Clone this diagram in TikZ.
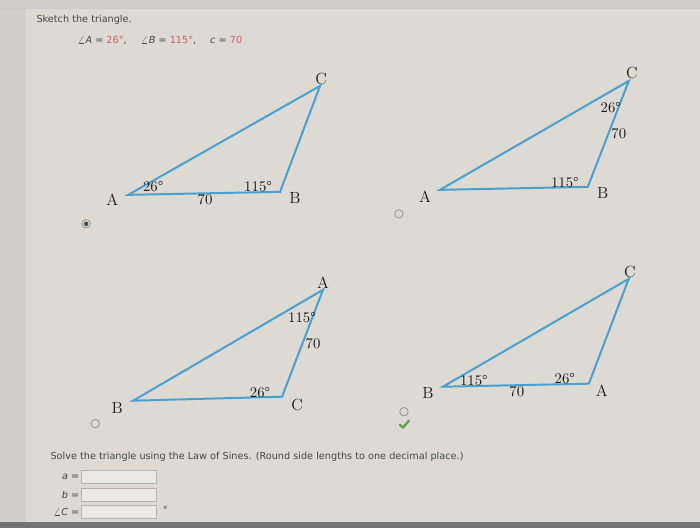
\documentclass[tikz,border=0pt]{standalone}
\usepackage{fontspec}
\newfontfamily\uifont{DejaVu Sans}
\usepackage{xcolor}
\usetikzlibrary{calc}
\definecolor{paper}{RGB}{220,218,211}
\definecolor{edge}{RGB}{208,206,199}
\definecolor{triblue}{RGB}{72,160,208}
\definecolor{uigray}{RGB}{70,70,70}
\definecolor{valred}{RGB}{205,95,90}
\definecolor{okgreen}{RGB}{96,160,72}
\tikzset{
	side/.style={draw=triblue,line width=1.4pt,line join=miter},
	vlabel/.style={inner sep=0pt,font=\fontsize{11.5}{13}\selectfont,text=black!90},
	alabel/.style={inner sep=0pt,font=\fontsize{10.5}{12}\selectfont,text=black!90},
	ui/.style={inner sep=0pt,font=\uifont\fontsize{6.9}{8}\selectfont,text=uigray},
	radio/.style={circle,draw=black!45,line width=0.5pt,minimum size=6pt,inner sep=0pt},
	inbox/.style={draw=black!30,fill=paper!60!white,line width=0.6pt,minimum width=53pt,minimum height=9.5pt,inner sep=0pt,anchor=west}
}

\begin{document}
\begin{tikzpicture}[x=0.025cm,y=-0.025cm]
		% photo background
		\fill[paper] (0,0) rectangle (700,528);
		\fill[edge] (0,0) rectangle (700,8);
		\fill[edge] (0,8) rectangle (25,528);
		\fill[black!55] (0,522) rectangle (700,528);
		\draw[black!20] (25,8) -- (25,522);
		\draw[black!20] (0,8) -- (700,8);
		\useasboundingbox (0,0) rectangle (700,528);
		
		% question
		\node[ui,anchor=west] (title) at (36,20) {Sketch the triangle.};
		\node[ui,anchor=west] (given) at (77,40) {$\angle$\textit{A} = \textcolor{valred}{26°},\hspace{10pt}$\angle$\textit{B} = \textcolor{valred}{115°},\hspace{10pt}\textit{c} = \textcolor{valred}{70}};
		
		% triangle 1
		\coordinate (A1) at (128,195);
		\coordinate (B1) at (280,192);
		\coordinate (C1) at (320,86);
		\draw[side] (A1) -- (B1) -- (C1) -- cycle;
		\node[vlabel] (lA1) at (112,200) {A};
		\node[vlabel] (lB1) at (295,198) {B};
		\node[vlabel] (lC1) at (321,79) {C};
		\node[alabel] (a1) at (153,187) {26\textdegree};
		\node[alabel] (b1) at (258,187) {115\textdegree};
		\node[alabel] (s1) at (205,200) {70};
		\node[radio,fill=black!15] (r1) at (86,224) {};
		\fill[black!70] (r1) circle (1.6pt);
		
		% triangle 2
		\coordinate (A2) at (440,190);
		\coordinate (B2) at (588,187);
		\coordinate (C2) at (629,81);
		\draw[side] (A2) -- (B2) -- (C2) -- cycle;
		\node[vlabel] (lA2) at (425,197) {A};
		\node[vlabel] (lB2) at (603,193) {B};
		\node[vlabel] (lC2) at (632,73) {C};
		\node[alabel] (a2) at (611,108) {26\textdegree};
		\node[alabel] (b2) at (565,183) {115\textdegree};
		\node[alabel] (s2) at (619,134) {70};
		\node[radio] (r2) at (399,214) {};
		
		% triangle 3
		\coordinate (B3) at (133,401);
		\coordinate (C3) at (282,397);
		\coordinate (A3) at (323,290);
		\draw[side] (B3) -- (C3) -- (A3) -- cycle;
		\node[vlabel] (lB3) at (117,408) {B};
		\node[vlabel] (lC3) at (297,405) {C};
		\node[vlabel] (lA3) at (323,283) {A};
		\node[alabel] (a3) at (302,318) {115\textdegree};
		\node[alabel] (s3) at (313,344) {70};
		\node[alabel] (b3) at (260,393) {26\textdegree};
		\node[radio] (r3) at (95,424) {};
		
		% triangle 4
		\coordinate (B4) at (443,387);
		\coordinate (A4) at (589,384);
		\coordinate (C4) at (629,279);
		\draw[side] (B4) -- (A4) -- (C4) -- cycle;
		\node[vlabel] (lB4) at (428,393) {B};
		\node[vlabel] (lA4) at (602,391) {A};
		\node[vlabel] (lC4) at (630,272) {C};
		\node[alabel] (b4) at (474,381) {115\textdegree};
		\node[alabel] (s4) at (517,392) {70};
		\node[alabel] (a4) at (565,379) {26\textdegree};
		\node[radio] (r4) at (404,412) {};
		\draw[okgreen,line width=1.6pt,line cap=round,line join=round] (400,425) -- (403,428) -- (409,421);
		
		% answer part
		\node[ui,anchor=west] (solve) at (50,457) {Solve the triangle using the Law of Sines. (Round side lengths to one decimal place.)};
		\node[inbox] (ba) at (81,477) {};
		\node[inbox] (bb) at (81,495) {};
		\node[inbox] (bc) at (81,512) {};
		\node[ui,anchor=east] (la) at (ba.west) {\textit{a} =\,};
		\node[ui,anchor=east] (lb) at (bb.west) {\textit{b} =\,};
		\node[ui,anchor=east] (lc) at (bc.west) {$\angle$\textit{C} =\,};
		\node[ui,anchor=west] (deg) at ($(bc.east)+(6,-2)$) {°};
	\end{tikzpicture}
\end{document}
